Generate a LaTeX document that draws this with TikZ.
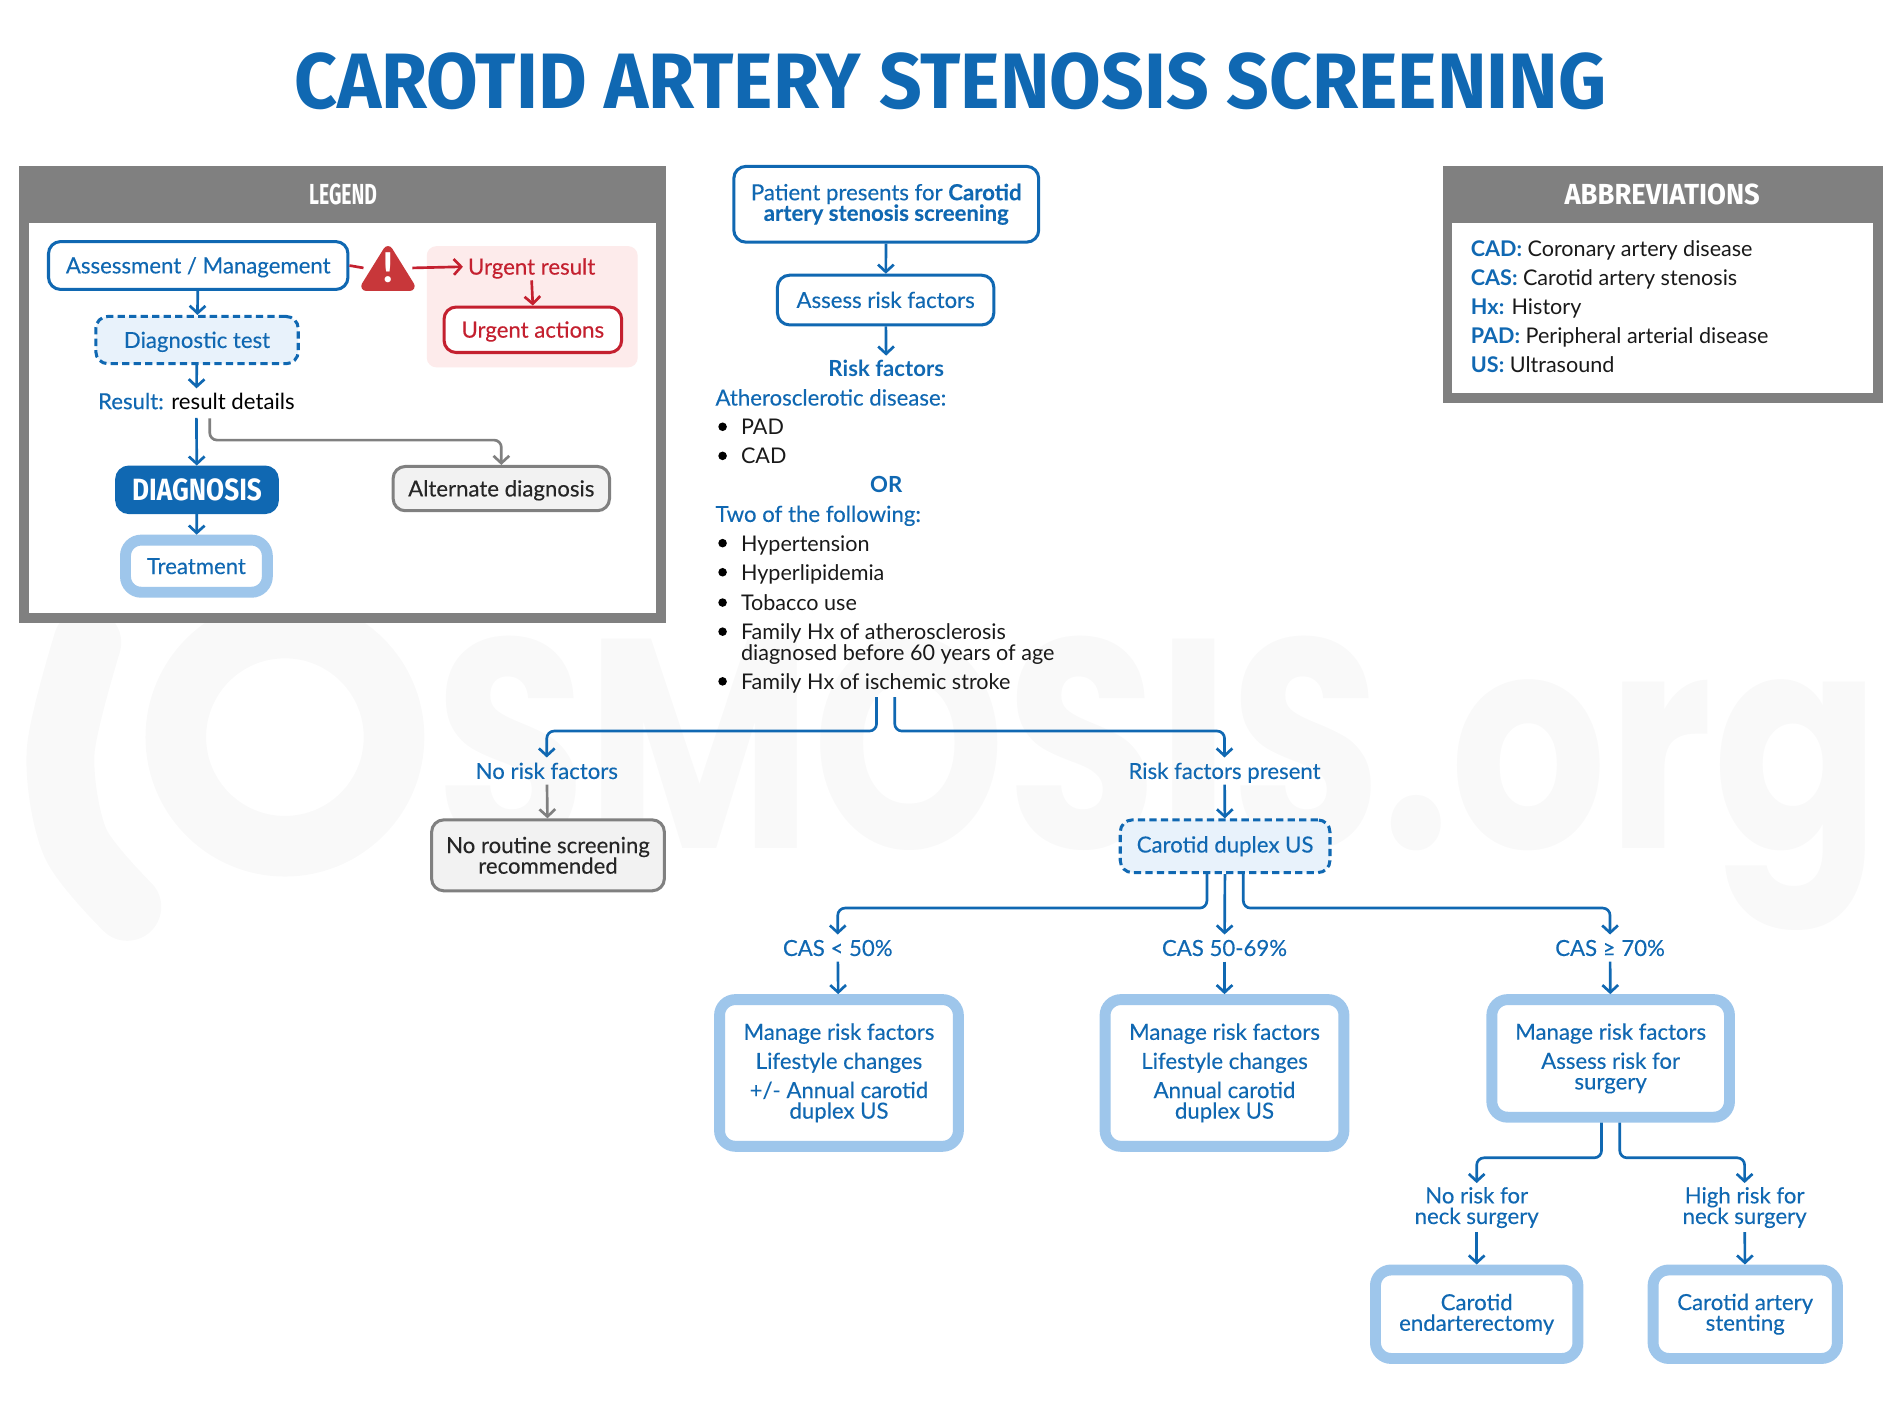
\documentclass[tikz,border=0pt]{standalone}
\usepackage{fontspec}
\usepackage{graphicx}
\usepackage{tikz}
\usetikzlibrary{arrows.meta}
\setmainfont{Lato}
\newfontfamily\medfont{Lato}[FakeBold=0.25]
\newfontfamily\titlefont{Fira Sans}
\newfontfamily\markfont{Poppins}
\newcommand{\headtext}[3]{\resizebox{#1pt}{#2pt}{\titlefont\bfseries #3}}
\newcommand{\bodysize}{\fontsize{18.3}{17}\selectfont}
\definecolor{osblue}{HTML}{1068B2}
\definecolor{oslight}{HTML}{9EC6EB}
\definecolor{ospale}{HTML}{E8F2FB}
\definecolor{osgrey}{HTML}{808080}
\definecolor{osfill}{HTML}{F2F2F2}
\definecolor{osred}{HTML}{C4202F}
\definecolor{oswarn}{HTML}{C8373A}
\definecolor{ospink}{HTML}{FDEBEB}
\definecolor{osmark}{HTML}{F9F9F9}
\tikzset{
  txt/.style={inner sep=0pt, align=center, font=\bodysize},
  blue/.style={txt, text=osblue, font=\bodysize\medfont},
  single/.style={text height=17pt, text depth=4pt},
  lbl/.style={blue, single, minimum height=22pt},
  lbltwo/.style={blue, minimum height=40pt},
  box/.style={blue, draw=osblue, fill=white, line width=2.5pt, rounded corners=10pt},
  testbox/.style={box, dashed, dash pattern=on 6pt off 3.5pt, fill=ospale},
  greybox/.style={box, draw=osgrey, fill=osfill, text=black!85},
  redbox/.style={box, draw=osred, text=osred},
  txbox/.style={box, draw=oslight, line width=9pt, rounded corners=13pt},
  item/.style={txt, single, text=black!90, anchor=west, font=\fontsize{17.8}{17}\selectfont},
  head/.style={txt, single, text=osblue, anchor=west, font=\bodysize\medfont},
  dot/.style={fill=black, circle, inner sep=2.5pt},
  flow/.style={draw=osblue, line width=2.2pt, rounded corners=6pt, -{Straight Barb[length=6pt,width=13pt]}},
  flowplain/.style={draw=osblue, line width=2.2pt},
  greyflow/.style={flow, draw=osgrey},
  redflow/.style={flow, draw=osred},
}
\begin{document}
\begin{tikzpicture}[x=1pt, y=-1pt]
  \useasboundingbox (0,0) rectangle (1568,1172);

  \draw [osmark, line width=50pt] (235,608) circle (90);
  \draw [osmark, line width=56pt, line cap=round] plot [smooth] coordinates {(72,530) (50,620) (62,695) (105,748)};
  \node [anchor=base] (wmark) at (955,700) {\resizebox{1190pt}{175pt}{\markfont\bfseries\color{osmark}SMOSIS.org}};

  \node (title) at (784,67) {\textcolor{osblue}{\headtext{1082}{46}{CAROTID ARTERY STENOSIS SCREENING}}};

  \fill [osgrey] (16,137) rectangle (549,514);
  \fill [white] (24,184) rectangle (541,506);
  \node (legend) at (283,160) {\textcolor{white}{\headtext{56}{17}{LEGEND}}};
  \fill [ospink, rounded corners=8pt] (352,203) rectangle (526,303);
  \node [box, single, minimum width=247pt, minimum height=39.5pt] (lassess) at (163.5,219) {Assessment / Management};
  \node [testbox, single, minimum width=167pt, minimum height=39pt] (ltest) at (162.5,280.5) {Diagnostic test};
  \node [txt, single] (lresult) at (162,331) {\textcolor{osblue}{\medfont Result:} result details};
  \node [box, fill=osblue, draw=osblue, minimum width=132.5pt, minimum height=37.5pt] (ldiag) at (162.5,404) {\headtext{107}{18}{\textcolor{white}{DIAGNOSIS}}};
  \node [txbox, minimum width=117pt, minimum height=43pt] (ltreat) at (162,467) {Treatment};
  \node [greybox, single, minimum width=178.5pt, minimum height=36.5pt] (lalt) at (413.5,403) {Alternate diagnosis};
  \node [lbl, text=osred] (lurgent) at (438.5,220) {Urgent result};
  \node [redbox, single, minimum width=146.5pt, minimum height=37.5pt] (lactions) at (439.5,272) {Urgent actions};
  \draw [oswarn, fill=oswarn, line width=8pt, line join=round] (320,207) -- (338,236) -- (302,236) -- cycle;
  \node [txt, text=white, minimum size=40pt, font=\fontsize{34}{34}\selectfont\bfseries] (lwarn) at (320,221) {!};
  \coordinate (laltstart) at (173,345);
  \draw [flow] (lassess) -- (ltest);
  \draw [flow] (ltest) -- (lresult);
  \draw [flow] (lresult.south) ++(0,3) -- (ldiag);
  \draw [flow] (ldiag) -- (ltreat);
  \draw [greyflow] (laltstart) |- (243,363) -| (lalt.north);
  \draw [flowplain, draw=osred] (lassess.east) -- (lwarn.west);
  \draw [redflow] (lwarn.east) -- ([xshift=-4pt]lurgent.west);
  \draw [redflow] (lurgent.south) -- (lactions.north);

  \node [box, minimum width=251.5pt, minimum height=62.5pt] (patient) at (731,168.5) {Patient presents for \textbf{Carotid}\\\textbf{artery stenosis screening}};
  \node [box, single, minimum width=178.5pt, minimum height=41pt] (assess) at (730.5,247.5) {Assess risk factors};
  \node [blue, single, font=\bodysize\bfseries] (rftitle) at (731,304) {Risk factors};
  \node [head] (athero) at (590,328) {Atherosclerotic disease:};
  \node [blue, single, font=\bodysize\bfseries] (ortext) at (731,400) {OR};
  \node [head] (twoof) at (590,424) {Two of the following:};
  \foreach \y/\name/\label in {352/pad/PAD, 376/cad/CAD, 448/htn/Hypertension, 472/hld/Hyperlipidemia, 497/tob/Tobacco use, 521/fam/Family Hx of atherosclerosis, 538/dgn/diagnosed before 60 years of age, 562/isc/Family Hx of ischemic stroke} {
    \node [item] (t\name) at (611,\y) {\label};
  }
  \foreach \y/\name in {352/pad, 376/cad, 448/htn, 472/hld, 497/tob, 521/fam, 562/isc} {
    \node [dot] (b\name) at (596,\y) {};
  }
  \coordinate (splitl) at (723,575);
  \coordinate (splitr) at (738,575);
  \draw [flow] (patient) -- (assess);
  \draw [flow] (assess) -- (rftitle);

  \node [lbl] (norisk) at (451,636) {No risk factors};
  \node [lbl] (present) at (1010,636) {Risk factors present};
  \node [greybox, minimum width=192pt, minimum height=58.5pt] (noroutine) at (452,705.5) {No routine screening\\recommended};
  \node [testbox, minimum width=173pt, minimum height=43.5pt] (duplex) at (1010.5,698) {Carotid duplex US};
  \draw [flow] (splitl) -- ++(0,28) -| (norisk.north);
  \draw [flow] (splitr) -- ++(0,28) -| (present.north);
  \draw [greyflow] (norisk) -- (noroutine);
  \draw [flow] (present) -- (duplex);

  \node [lbl] (caslow) at (691,782) {CAS < 50\%};
  \node [lbl] (casmid) at (1010,782) {CAS 50-69\%};
  \node [lbl] (cashigh) at (1328,782) {CAS ≥ 70\%};
  \coordinate (dupl) at ([xshift=-15pt]duplex.south);
  \coordinate (dupr) at ([xshift=15pt]duplex.south);
  \draw [flow] (dupl) -- ++(0,28) -| (caslow.north);
  \draw [flow] (duplex) -- (casmid);
  \draw [flow] (dupr) -- ++(0,28) -| (cashigh.north);

  \node [txbox, minimum width=197pt, minimum height=121pt] (txlow) at (692,885) {Manage risk factors\\[7pt]Lifestyle changes\\[7pt]+/- Annual carotid\\duplex US};
  \node [txbox, minimum width=197pt, minimum height=121pt] (txmid) at (1010,885) {Manage risk factors\\[7pt]Lifestyle changes\\[7pt]Annual carotid\\duplex US};
  \node [txbox, minimum width=196pt, minimum height=97pt] (txhigh) at (1328.5,873) {Manage risk factors\\[7pt]Assess risk for\\surgery};
  \draw [flow] (caslow) -- (txlow);
  \draw [flow] (casmid) -- (txmid);
  \draw [flow] (cashigh) -- (txhigh);

  \node [lbltwo] (norisksurg) at (1218,996) {No risk for\\neck surgery};
  \node [lbltwo] (highrisk) at (1439,996) {High risk for\\neck surgery};
  \node [txbox, minimum width=167pt, minimum height=73pt] (cea) at (1218,1084) {Carotid\\endarterectomy};
  \node [txbox, minimum width=152pt, minimum height=73pt] (cas) at (1439.5,1084) {Carotid artery\\stenting};
  \coordinate (txl) at ([xshift=-7.5pt]txhigh.south);
  \coordinate (txr) at ([xshift=7.5pt]txhigh.south);
  \draw [flow] (txl) -- ++(0,29) -| (norisksurg.north);
  \draw [flow] (txr) -- ++(0,29) -| (highrisk.north);
  \draw [flow] (norisksurg) -- (cea);
  \draw [flow] (highrisk) -- (cas);

  \fill [osgrey] (1190,137) rectangle (1553,332);
  \fill [white] (1198,184) rectangle (1545,324);
  \node (abbrev) at (1371,160) {\textcolor{white}{\headtext{161}{17}{ABBREVIATIONS}}};
  \foreach \y/\name/\label in {205/CAD/Coronary artery disease, 229/CAS/Carotid artery stenosis, 253/Hx/History, 277/PAD/Peripheral arterial disease, 301/US/Ultrasound} {
    \node [item] (abbr\name) at (1213,\y) {\textcolor{osblue}{\bfseries\name:} \label};
  }
\end{tikzpicture}
\end{document}
